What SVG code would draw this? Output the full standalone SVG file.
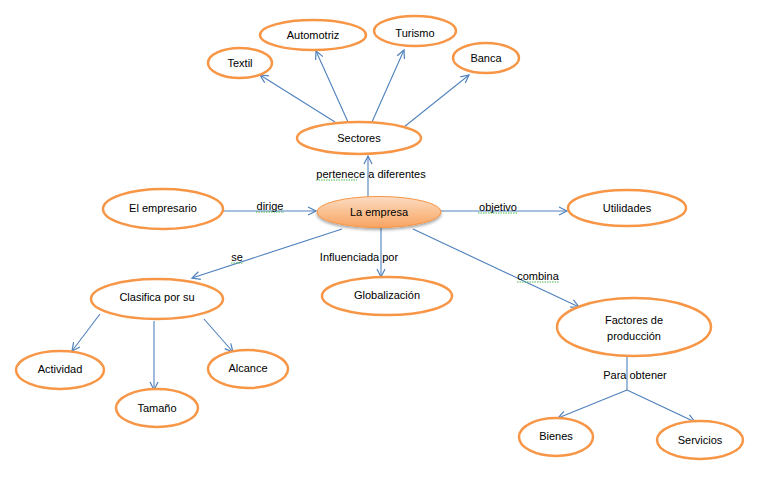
<svg xmlns="http://www.w3.org/2000/svg" width="763" height="483" viewBox="0 0 763 483">
<defs>
<marker id="arr" markerUnits="userSpaceOnUse" markerWidth="12" markerHeight="12" refX="9" refY="5" orient="auto">
<path d="M1,1 L9,5 L1,9" fill="none" stroke="#4F81BD" stroke-width="1.2"/>
</marker>
<linearGradient id="g" x1="0" y1="0" x2="0" y2="1">
<stop offset="0" stop-color="#FCDCC4"/>
<stop offset="0.5" stop-color="#FAC090"/>
<stop offset="1" stop-color="#F8A463"/>
</linearGradient>
<filter id="sh" x="-20%" y="-30%" width="140%" height="180%">
<feGaussianBlur in="SourceAlpha" stdDeviation="1.5"/>
<feOffset dx="0" dy="2" result="b"/>
<feComponentTransfer><feFuncA type="linear" slope="0.35"/></feComponentTransfer>
<feMerge><feMergeNode/><feMergeNode in="SourceGraphic"/></feMerge>
</filter>
</defs>
<style>
.n ellipse{fill:#fff;stroke:#F79646;stroke-width:2.5}
text{font-family:"Liberation Sans","DejaVu Sans",sans-serif;font-size:11px;fill:#000;text-anchor:middle}
.c line,.c path{stroke:#4F81BD;stroke-width:1.1;fill:none}
.sq{stroke:#3DAF3D;stroke-width:0.9;fill:none;stroke-dasharray:1.5 1}
</style>
<rect width="763" height="483" fill="#fff"/>
<g id="connectors" class="c">
<line x1="335" y1="122" x2="260" y2="75" marker-end="url(#arr)"/>
<line x1="348" y1="122" x2="316" y2="51" marker-end="url(#arr)"/>
<line x1="372" y1="122" x2="404" y2="50" marker-end="url(#arr)"/>
<line x1="404" y1="127" x2="469" y2="75" marker-end="url(#arr)"/>
<line x1="368" y1="197" x2="368" y2="156" marker-end="url(#arr)"/>
<line x1="223" y1="211" x2="316" y2="211" marker-end="url(#arr)"/>
<line x1="441" y1="211" x2="567" y2="211" marker-end="url(#arr)"/>
<line x1="342" y1="229" x2="192" y2="278" marker-end="url(#arr)"/>
<line x1="381" y1="228" x2="381" y2="277" marker-end="url(#arr)"/>
<line x1="413" y1="229" x2="579" y2="307" marker-end="url(#arr)"/>
<line x1="100" y1="314" x2="72" y2="351" marker-end="url(#arr)"/>
<line x1="154" y1="321" x2="154" y2="390" marker-end="url(#arr)"/>
<line x1="204" y1="319" x2="233" y2="352" marker-end="url(#arr)"/>
<line x1="627" y1="357" x2="627" y2="390"/>
<line x1="627" y1="390" x2="558" y2="418" marker-end="url(#arr)"/>
<line x1="627" y1="390" x2="695" y2="422" marker-end="url(#arr)"/>
</g>
<g id="labels">
<text x="371" y="178">pertenece a diferentes</text>
<path class="sq" d="M316,180 H357"/>
<text x="270" y="210">dirige</text>
<path class="sq" d="M256,212 H284"/>
<text x="498" y="211">objetivo</text>
<path class="sq" d="M478,213 H518"/>
<text x="237" y="261">se</text>
<path class="sq" d="M231,263 H243"/>
<text x="359" y="261">Influenciada por</text>
<text x="538" y="280">combina</text>
<path class="sq" d="M517,282 H559"/>
<text x="635" y="379">Para obtener</text>
</g>
<g id="textil" class="n"><ellipse cx="240" cy="63" rx="32" ry="15"/><text x="240" y="67">Textil</text></g>
<g id="automotriz" class="n"><ellipse cx="313" cy="35" rx="53" ry="15"/><text x="313" y="39">Automotriz</text></g>
<g id="turismo" class="n"><ellipse cx="415" cy="31" rx="41" ry="15"/><text x="415" y="37">Turismo</text></g>
<g id="banca" class="n"><ellipse cx="486" cy="58" rx="33" ry="15"/><text x="486" y="62">Banca</text></g>
<g id="sectores" class="n"><ellipse cx="359" cy="138" rx="62" ry="16"/><text x="359" y="142">Sectores</text></g>
<g id="empresario" class="n"><ellipse cx="163" cy="209" rx="60" ry="20"/><text x="163" y="212">El empresario</text></g>
<g id="empresa"><ellipse cx="379" cy="212" rx="62" ry="15.5" fill="url(#g)" stroke="#F79646" stroke-width="1" filter="url(#sh)"/><text x="379" y="216">La empresa</text></g>
<g id="utilidades" class="n"><ellipse cx="627" cy="208" rx="59" ry="18"/><text x="627" y="212">Utilidades</text></g>
<g id="clasifica" class="n"><ellipse cx="157" cy="299" rx="66" ry="20"/><text x="157" y="301">Clasifica por su</text></g>
<g id="globalizacion" class="n"><ellipse cx="387" cy="296" rx="65" ry="19"/><text x="387" y="299">Globalización</text></g>
<g id="factores" class="n"><ellipse cx="634" cy="327" rx="77" ry="29"/><text x="634" y="324">Factores de</text><text x="634" y="340">producción</text></g>
<g id="actividad" class="n"><ellipse cx="60" cy="370" rx="44" ry="19"/><text x="60" y="373">Actividad</text></g>
<g id="alcance" class="n"><ellipse cx="248" cy="369" rx="40" ry="19"/><text x="248" y="372">Alcance</text></g>
<g id="tamano" class="n"><ellipse cx="157" cy="408" rx="41" ry="19"/><text x="157" y="412">Tamaño</text></g>
<g id="bienes" class="n"><ellipse cx="556" cy="437" rx="37" ry="19"/><text x="556" y="440">Bienes</text></g>
<g id="servicios" class="n"><ellipse cx="700" cy="440" rx="43" ry="19"/><text x="700" y="444">Servicios</text></g>
</svg>
